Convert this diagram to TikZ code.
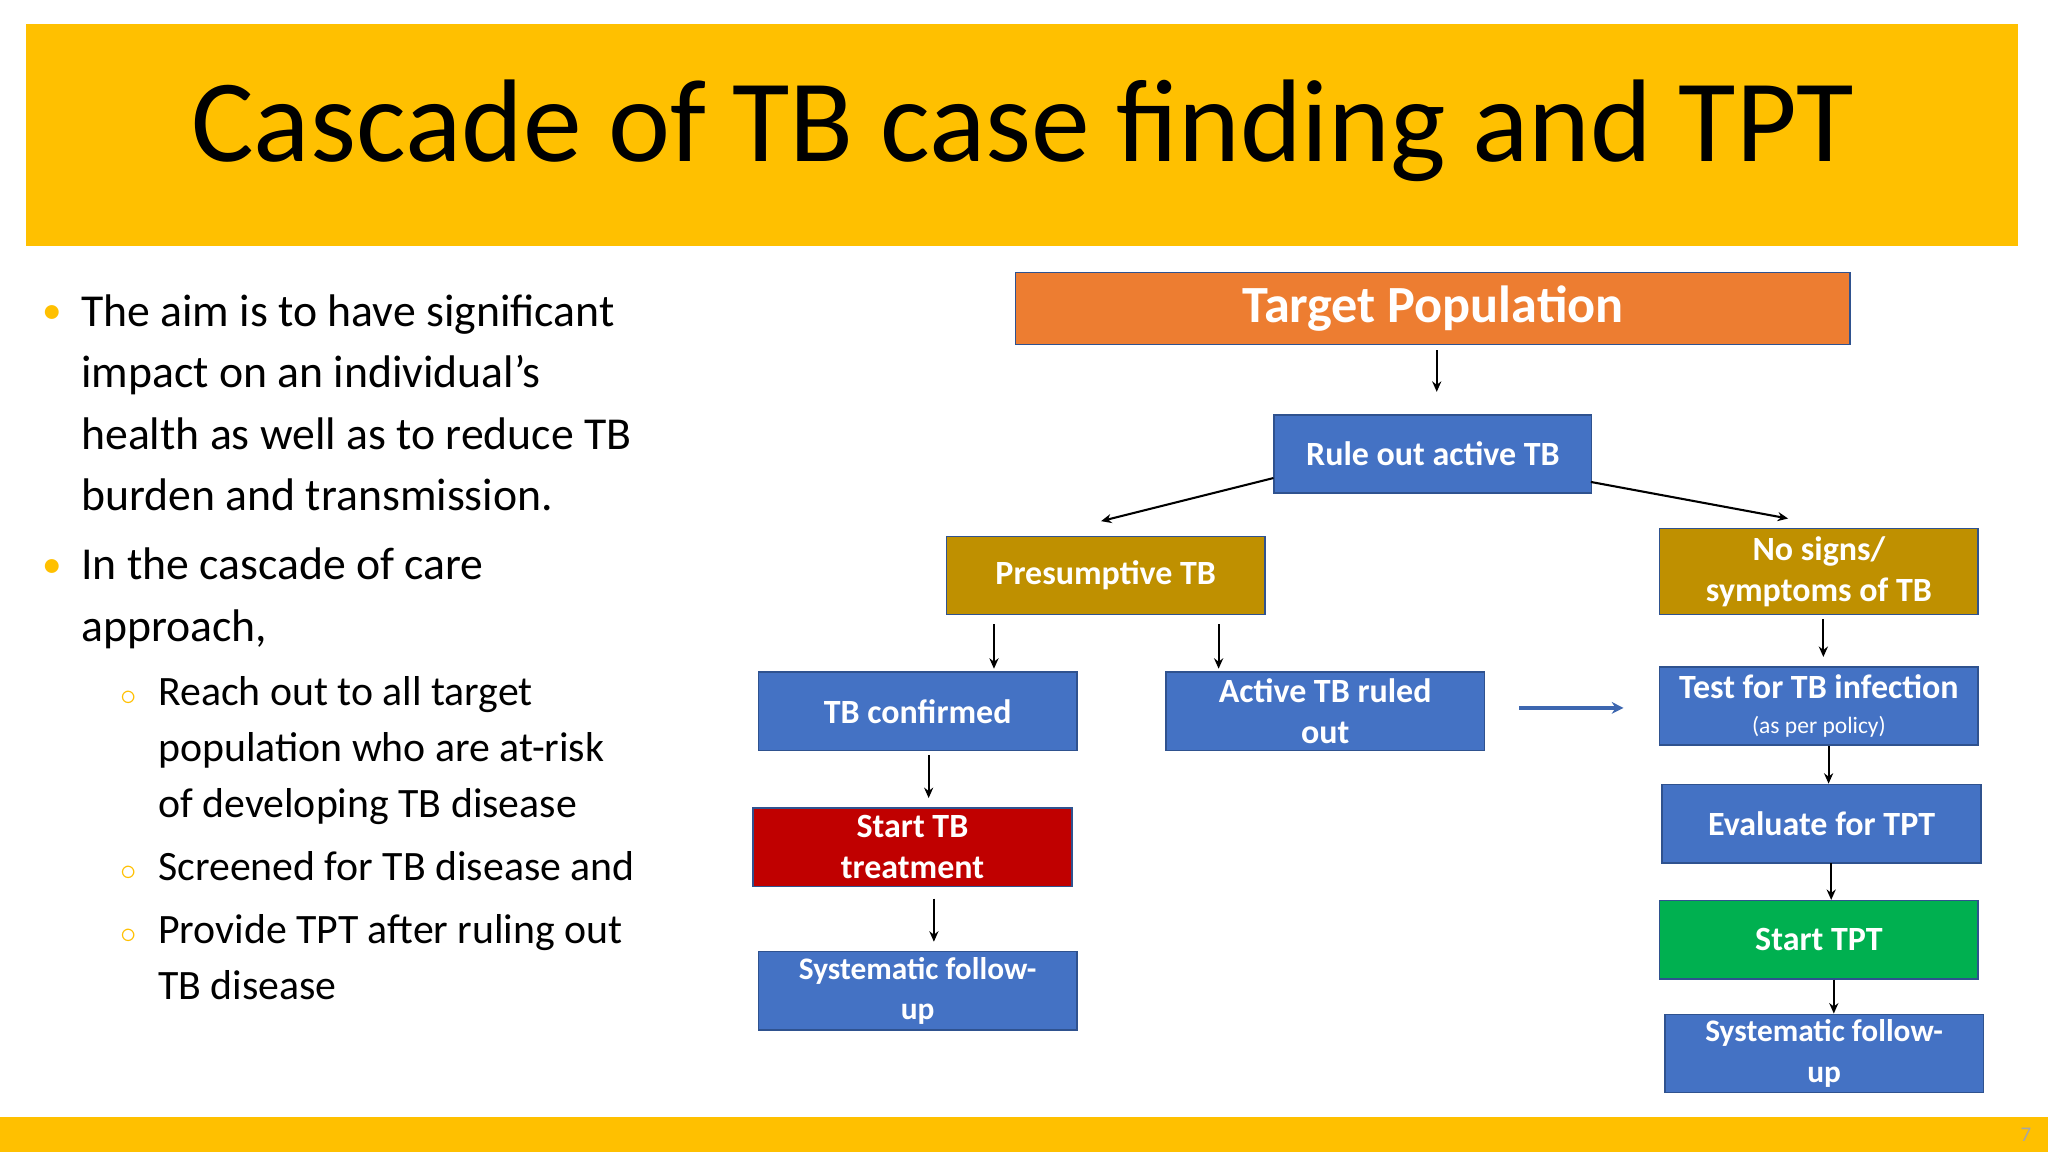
\documentclass[tikz,border=0pt]{standalone}
\usepackage{fontspec}
\setmainfont{Carlito}
\usetikzlibrary{arrows.meta}
\definecolor{gold}{HTML}{FFC000}
\definecolor{orng}{HTML}{ED7D31}
\definecolor{blu}{HTML}{4472C4}
\definecolor{dgold}{HTML}{BF9000}
\definecolor{rd}{HTML}{C00000}
\definecolor{grn}{HTML}{00B050}
\definecolor{edge}{HTML}{2F528F}
\begin{document}
\begin{tikzpicture}[x=1pt,y=-1pt,
  box/.style={draw=edge,line width=1.2pt,minimum width=244pt,minimum height=60pt,anchor=north west,text=white,font=\fontsize{26}{31}\selectfont\bfseries,align=center,inner sep=1pt},
  arr/.style={-{Stealth[length=8pt,width=7pt]},line width=1.6pt},
  ln/.style={anchor=base west,font=\fontsize{35}{40}\selectfont,inner sep=0},
  sl/.style={anchor=base west,font=\fontsize{32}{38}\selectfont,inner sep=0},
  bul/.style={anchor=base west,text=gold,inner sep=0}]
\useasboundingbox (0,0) rectangle (1568,882);
\fill[white] (0,0) rectangle (1568,882);
\fill[gold] (20,18) rectangle (1545,188);
\fill[gold] (0,855) rectangle (1568,882);
\node[text=gray!70,font=\fontsize{16}{18}\selectfont] (pg) at (1551,869) {7};
\node[font=\fontsize{90}{100}\selectfont] (title) at (783,100) {Cascade of TB case finding and TPT};
% left text
\node[bul,font=\fontsize{30}{30}\selectfont] (b1) at (32,248) {•};
\node[ln] (l1) at (62,250) {The aim is to have significant};
\node[ln] (l2) at (62,297) {impact on an individual’s};
\node[ln] (l3) at (62,344) {health as well as to reduce TB};
\node[ln] (l4) at (62,391) {burden and transmission.};
\node[bul,font=\fontsize{30}{30}\selectfont] (b2) at (32,442) {•};
\node[ln] (l5) at (62,444) {In the cascade of care};
\node[ln] (l6) at (62,491) {approach,};
\node[bul,font=\fontsize{28}{28}\selectfont] (s1) at (92,540) {$\circ$};
\node[sl] (m1) at (121,540) {Reach out to all target};
\node[sl] (m2) at (121,583) {population who are at-risk};
\node[sl] (m3) at (121,626) {of developing TB disease};
\node[bul,font=\fontsize{28}{28}\selectfont] (s2) at (92,674) {$\circ$};
\node[sl] (m4) at (121,674) {Screened for TB disease and};
\node[bul,font=\fontsize{28}{28}\selectfont] (s3) at (92,722) {$\circ$};
\node[sl] (m5) at (121,722) {Provide TPT after ruling out};
\node[sl] (m6) at (121,765) {TB disease};
% boxes
\node[box,fill=orng,minimum width=639pt,minimum height=55pt,font=\fontsize{40}{44}\selectfont\bfseries] (tp) at (777,208) {Target Population};
\node[box,fill=blu,minimum width=243pt] (ro) at (975,317) {Rule out active TB};
\node[box,fill=dgold] (pt) at (724,410) {Presumptive TB};
\node[box,fill=dgold,minimum height=66pt] (ns) at (1270,404) {No signs/\\symptoms of TB};
\node[box,fill=blu] (tc) at (580,514) {TB confirmed};
\node[box,fill=blu] (ar) at (892,514) {Active TB ruled\\out};
\node[box,fill=blu] (ti) at (1270,510) {Test for TB infection\\[-4pt]{\fontsize{18}{20}\selectfont\mdseries (as per policy)}};
\node[box,fill=rd] (st) at (576,618) {Start TB\\treatment};
\node[box,fill=blu,font=\fontsize{24}{31}\selectfont\bfseries] (sf1) at (580,728) {Systematic follow-\\up};
\node[box,fill=blu] (ev) at (1272,600) {Evaluate for TPT};
\node[box,fill=grn] (stp) at (1270,689) {Start TPT};
\node[box,fill=blu,font=\fontsize{24}{31}\selectfont\bfseries] (sf2) at (1274,776) {Systematic follow-\\up};
% arrows
\coordinate (a1) at (1100,268); \coordinate (a1e) at (1100,300);
\draw[arr] (a1) -- (a1e);
\coordinate (rl) at (975,366); \coordinate (rle) at (843,399);
\draw[arr] (rl) -- (rle);
\coordinate (rr) at (1218,369); \coordinate (rre) at (1369,397);
\draw[arr] (rr) -- (rre);
\coordinate (p1) at (761,478); \coordinate (p1e) at (761,512);
\draw[arr] (p1) -- (p1e);
\coordinate (p2) at (933,478); \coordinate (p2e) at (933,512);
\draw[arr] (p2) -- (p2e);
\coordinate (c1) at (711,578); \coordinate (c1e) at (711,611);
\draw[arr] (c1) -- (c1e);
\coordinate (c2) at (715,688); \coordinate (c2e) at (715,721);
\draw[arr] (c2) -- (c2e);
\coordinate (n1) at (1396,474); \coordinate (n1e) at (1396,503);
\draw[arr] (n1) -- (n1e);
\coordinate (n2) at (1400,571); \coordinate (n2e) at (1400,600);
\draw[arr] (n2) -- (n2e);
\coordinate (n3) at (1402,661); \coordinate (n3e) at (1402,689);
\draw[arr] (n3) -- (n3e);
\coordinate (n4) at (1404,750); \coordinate (n4e) at (1404,776);
\draw[arr] (n4) -- (n4e);
\coordinate (h1) at (1163,542); \coordinate (h1e) at (1243,542);
\draw[-{Stealth[length=9pt,width=9pt]},line width=3pt,draw=blu!90!black] (h1) -- (h1e);
\end{tikzpicture}
\end{document}
